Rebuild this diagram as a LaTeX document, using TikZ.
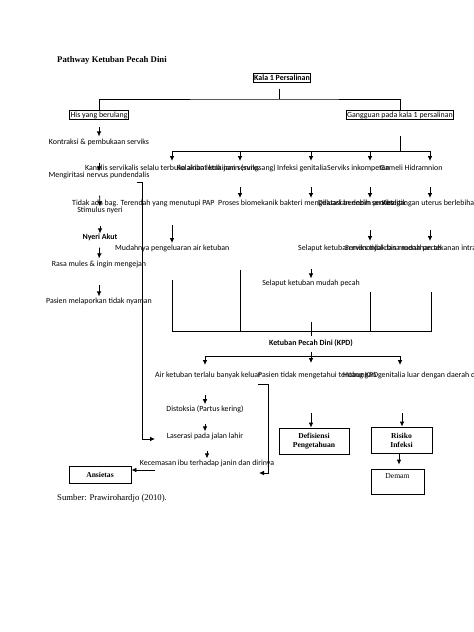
\documentclass[tikz,border=0pt]{standalone}
\usepackage{fontspec}
\setmainfont{Carlito}
\newfontfamily\seriffont{Liberation Serif}
\usetikzlibrary{arrows.meta}
\begin{document}
\begin{tikzpicture}[x=1pt,y=-1pt,
  txt/.style={font=\fontsize{7.9}{8.5}\selectfont, inner sep=0pt},
  btxt/.style={txt, font=\fontsize{7.9}{8.5}\selectfont\bfseries},
  tbox/.style={draw, line width=0.8pt, inner xsep=1pt, inner ysep=1.4pt, font=\fontsize{7.9}{8.5}\selectfont},
  sbox/.style={draw, line width=0.8pt, align=center, inner sep=0pt, font=\seriffont\bfseries\fontsize{7.6}{9}\selectfont},
  ln/.style={line width=0.8pt},
  arr/.style={line width=0.8pt, -{Latex[length=5pt,width=4.6pt]}}]
\useasboundingbox[fill=white] (0,0) rectangle (474,632);

% title
\node[anchor=west, inner sep=0pt, font=\seriffont\bfseries\fontsize{8.7}{10}\selectfont] (title) at (57,60) {Pathway Ketuban Pecah Dini};

% top tree
\node[tbox, font=\fontsize{7.9}{8.5}\selectfont\bfseries] (kala) at (282,78) {Kala 1 Persalinan};
\node[tbox] (his) at (99,115) {His yang berulang};
\node[tbox] (gangguan) at (400,115) {Gangguan pada kala 1 persalinan};
\coordinate (top) at (279,99);
\draw[ln, shorten <=6pt] (kala.south -| top) -- (top);
\draw[ln] (his.north) |- (top) -| (gangguan.north);

% left column
\node[txt] (kontraksi) at (99,142) {Kontraksi \& pembukaan serviks};
\node[txt] (mengiritasi) at (99,175) {Mengiritasi nervus pundendalis};
\node[txt] (stimulus) at (100,210) {Stimulus nyeri};
\node[btxt] (nyeri) at (100,237) {Nyeri Akut};
\node[txt] (rasa) at (99,264) {Rasa mules \& ingin mengejan};
\node[txt] (pasien) at (99,301) {Pasien melaporkan tidak nyaman};
\draw[arr, shorten <=7pt, shorten >=2pt] (his.south) -- (kontraksi.north);
\draw[arr, shorten <=17pt] (kontraksi.south) -- (mengiritasi.north);
\draw[arr, shorten <=17pt] (mengiritasi.south) -- (stimulus.north);
\draw[arr, shorten <=12pt] (stimulus.south) -- (nyeri.north);
\draw[arr, shorten <=7pt, shorten >=2pt] (nyeri.south) -- (rasa.north);
\draw[arr, shorten <=17pt, shorten >=1pt] (rasa.south) -- (pasien.north);

% branch from gangguan
\coordinate (g1) at (400,151);
\coordinate (gl) at (172,151);
\coordinate (gr) at (430,151);
\draw[ln, shorten <=16pt] (gangguan.south) -- (g1);
\draw[ln] (gl) -- (gr);
\foreach \x in {172,240,311,370,430} \draw[arr] (\x,151) -- (\x,161);

% row 1
\node[txt, anchor=west] (kanalis) at (85,168) {Kanalis servikalis selalu terbuka akibat kelainan serviks};
\node[txt, anchor=east] (letak) at (276,168) {Kelainan letak janin (sungsang)};
\node[txt, anchor=west] (infeksi) at (277,168) {Infeksi genitalia};
\node[txt, anchor=west] (inkompeten) at (327,168) {Serviks inkompeten};
\node[txt, anchor=west] (gameli) at (380,168) {Gameli Hidramnion};

% row 2
\foreach \x in {240,311,370,430} \draw[arr] (\x,187) -- (\x,198);
\node[txt, anchor=west] (tidak) at (72,203) {Tidak ada bag. Terendah yang menutupi PAP};
\node[txt, anchor=west] (proses) at (218,203) {Proses biomekanik bakteri mengeluarkan enzim proteolitik};
\node[txt, anchor=west] (dilatasi) at (318,203) {Dilatasi berlebih serviks};
\node[txt, anchor=west] (tegang) at (382,203) {Ketegangan uterus berlebihan};

% row 3
\draw[arr] (172,225) -- (172,243);
\foreach \x in {370,430} \draw[arr] (\x,230) -- (\x,241);
\node[txt, anchor=west] (mudahnya) at (115,248) {Mudahnya pengeluaran air ketuban};
\node[txt, anchor=west] (menonjol) at (298,248) {Selaput ketuban menonjol dan mudah pecah};
\node[txt, anchor=west] (tekanan) at (345,248) {Serviks tidak bisa menahan tekanan intrauterin};

% row 4
\node[txt] (selaput) at (311,283) {Selaput ketuban mudah pecah};
\coordinate (s0) at (311,269);
\draw[arr, shorten >=1pt] (s0) -- (selaput.north);

% bracket to KPD
\coordinate (bl) at (172,331);
\coordinate (br) at (431,331);
\draw[ln] (172,280) -- (bl) -- (br) -- (431,292);
\draw[ln] (240,270) -- (240,331);
\draw[ln] (370,292) -- (370,331);
\draw[ln] (311,322) -- (311,336);
\node[btxt] (kpd) at (311,343) {Ketuban Pecah Dini (KPD)};

% branch from KPD
\coordinate (k1) at (311,363);
\draw[arr, shorten <=5pt] (kpd.south) -- (k1);
\draw[ln] (205,356) -- (400,356);
\foreach \x in {205,400} \draw[arr] (\x,356) -- (\x,365);

% row 5
\node[txt, anchor=west] (banyak) at (155,375) {Air ketuban terlalu banyak keluar};
\node[txt, anchor=west] (tahu) at (258,375) {Pasien tidak mengetahui tentang KPD};
\node[txt, anchor=west] (hubungan) at (343,375) {Hubungan genitalia luar dengan daerah dalam};

% lower chain
\node[txt] (distoksia) at (205,409) {Distoksia (Partus kering)};
\node[txt] (laserasi) at (205,436) {Laserasi pada jalan lahir};
\node[txt] (kecemasan) at (207,463) {Kecemasan ibu terhadap janin dan dirinya};
\coordinate (d0) at (205,395);
\draw[arr, shorten >=1pt] (d0) -- (distoksia.north);
\draw[arr, shorten <=11pt, shorten >=1pt] (distoksia.south) -- (laserasi.north);
\draw[arr, shorten <=11pt, shorten >=1pt] (laserasi.south -| kecemasan.north) -- (kecemasan.north);

% long connector from left column to laserasi
\coordinate (c1) at (137,182);
\coordinate (c1e) at (155,439);
\draw[arr] (c1) -- (142,182) |- (c1e);

% connector from row 5 to kecemasan end
\coordinate (c2) at (258,384);
\coordinate (c2e) at (259,473);
\draw[arr] (c2) -- (268,384) |- (c2e);

% boxes
\node[sbox, minimum width=62pt, minimum height=17pt] (ansietas) at (100,474.5) {Ansietas};
\coordinate (a0) at (155,470);
\draw[arr] (a0) -- (ansietas.east |- a0);

\node[sbox, minimum width=70pt, minimum height=26pt] (defisiensi) at (314,441) {Defisiensi\\Pengetahuan};
\node[sbox, minimum width=61pt, minimum height=26pt] (risiko) at (401.5,440) {Risiko\\Infeksi};
\node[draw, line width=0.8pt, minimum width=53pt, minimum height=25pt, inner sep=0pt] (demam) at (397.5,481.5) {};
\node[inner sep=0pt, font=\seriffont\fontsize{7.6}{9}\selectfont] (demamtxt) at (397.5,476) {Demam};

\coordinate (f0) at (311,413);
\coordinate (r0) at (402,413);
\coordinate (m0) at (399,454);
\draw[arr] (f0) -- (f0 |- defisiensi.north);
\draw[arr] (r0) -- (r0 |- risiko.north);
\draw[arr, shorten >=4pt] (m0) -- (m0 |- demam.north);

% source
\node[anchor=west, inner sep=0pt, font=\seriffont\fontsize{8.7}{10}\selectfont] (sumber) at (57,498) {Sumber: Prawirohardjo (2010).};
\end{tikzpicture}
\end{document}
